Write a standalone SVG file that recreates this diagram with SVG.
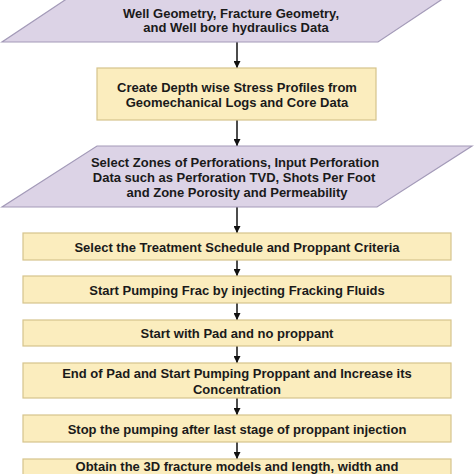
<svg xmlns="http://www.w3.org/2000/svg" width="474" height="474" viewBox="0 0 474 474">
<defs>
<marker id="ah" viewBox="0 0 10 10" refX="10" refY="5" markerWidth="7" markerHeight="7" markerUnits="userSpaceOnUse" orient="auto">
<path d="M0,0 L10,5 L0,10 Z" fill="#111"/>
</marker>
</defs>
<style>
.io{fill:#DCD3E6;stroke:#A39AB8;stroke-width:1.2}
.pr{fill:#FBEDBE;stroke:#D6C48C;stroke-width:1.2}
.t{font-family:"Liberation Sans",Arial,sans-serif;font-weight:bold;font-size:13px;fill:#1a1a1a;text-anchor:middle}
.c{stroke:#111;stroke-width:1.5;fill:none;marker-end:url(#ah)}
</style>
<rect width="474" height="474" fill="#fff"/>
<g id="connectors">
<line class="c" x1="237" y1="42" x2="237" y2="68"/>
<line class="c" x1="237" y1="120" x2="237" y2="146"/>
<line class="c" x1="237" y1="207" x2="237" y2="233"/>
<line class="c" x1="237" y1="260" x2="237" y2="276"/>
<line class="c" x1="237" y1="303" x2="237" y2="320"/>
<line class="c" x1="237" y1="346" x2="237" y2="363"/>
<line class="c" x1="237" y1="398" x2="237" y2="415"/>
<line class="c" x1="237" y1="442" x2="237" y2="459"/>
</g>
<g id="n1">
<polygon class="io" points="95,-20 471,-20 378,42 2,42"/>
<text class="t" x="231" y="18">Well Geometry, Fracture Geometry,</text>
<text class="t" x="236" y="32">and Well bore hydraulics Data</text>
</g>
<g id="n2">
<rect class="pr" x="97" y="68" width="279" height="52"/>
<text class="t" x="237" y="92">Create Depth wise Stress Profiles from</text>
<text class="t" x="237" y="107">Geomechanical Logs and Core Data</text>
</g>
<g id="n3">
<polygon class="io" points="97,146 472,146 377,207 2,207"/>
<text class="t" x="235" y="167">Select Zones of Perforations, Input Perforation</text>
<text class="t" x="234" y="182">Data such as Perforation TVD, Shots Per Foot</text>
<text class="t" x="237" y="197">and Zone Porosity and Permeability</text>
</g>
<g id="n4">
<rect class="pr" x="23" y="233" width="428" height="27"/>
<text class="t" x="237" y="251.5">Select the Treatment Schedule and Proppant Criteria</text>
</g>
<g id="n5">
<rect class="pr" x="23" y="276" width="428" height="27"/>
<text class="t" x="237" y="295">Start Pumping Frac by injecting Fracking Fluids</text>
</g>
<g id="n6">
<rect class="pr" x="23" y="320" width="428" height="26"/>
<text class="t" x="237" y="338">Start with Pad and no proppant</text>
</g>
<g id="n7">
<rect class="pr" x="23" y="363" width="428" height="35"/>
<text class="t" x="237" y="378">End of Pad and Start Pumping Proppant and Increase its</text>
<text class="t" x="237" y="394">Concentration</text>
</g>
<g id="n8">
<rect class="pr" x="23" y="415" width="428" height="27"/>
<text class="t" x="237" y="434">Stop the pumping after last stage of proppant injection</text>
</g>
<g id="n9">
<rect class="pr" x="23" y="459" width="428" height="30"/>
<text class="t" x="237" y="470.5">Obtain the 3D fracture models and length, width and</text>
</g>
</svg>
